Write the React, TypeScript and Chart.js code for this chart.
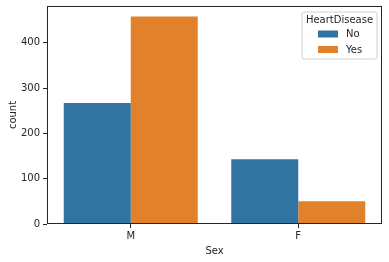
import React, { useEffect, useRef } from "react";
import { Chart, registerables } from "chart.js";

Chart.register(...registerables);

const categories = ["M", "F"];
const seriesNames = ["No", "Yes"];
const noValues = [267, 143];
const yesValues = [458, 50];
const yTicks = [0, 100, 200, 300, 400];
const colors = ["#3274a1", "#e1812c"];
const FONT = "'DejaVu Sans', sans-serif";

const framePlugin = {
  id: "frameLegend",
  afterDraw(chart: any) {
    const { ctx, chartArea } = chart;
    const { left, right, top, bottom } = chartArea;
    ctx.save();
    ctx.strokeStyle = "#262626";
    ctx.lineWidth = 1;
    const l = Math.round(left) + 0.5, t = Math.round(top) + 0.5;
    const r0 = Math.round(right) - 0.5, b = Math.round(bottom) - 0.5;
    ctx.strokeRect(l, t, r0 - l, b - t);
    // legend
    const bx = right - 80, by = top + 6, bw = 75, bh = 47;
    ctx.fillStyle = "rgba(255,255,255,0.8)";
    ctx.strokeStyle = "#d0d0d0";
    ctx.beginPath();
    const r = 2;
    ctx.moveTo(bx + r, by);
    ctx.lineTo(bx + bw - r, by);
    ctx.arcTo(bx + bw, by, bx + bw, by + r, r);
    ctx.lineTo(bx + bw, by + bh - r);
    ctx.arcTo(bx + bw, by + bh, bx + bw - r, by + bh, r);
    ctx.lineTo(bx + r, by + bh);
    ctx.arcTo(bx, by + bh, bx, by + bh - r, r);
    ctx.lineTo(bx, by + r);
    ctx.arcTo(bx, by, bx + r, by, r);
    ctx.closePath();
    ctx.fill();
    ctx.stroke();
    ctx.fillStyle = "#262626";
    ctx.font = `10px ${FONT}`;
    ctx.textAlign = "center";
    ctx.textBaseline = "middle";
    ctx.fillText("HeartDisease", bx + bw / 2, by + 8.5);
    ctx.textAlign = "left";
    seriesNames.forEach((name, i) => {
      const y = by + 22 + i * 15.5;
      ctx.fillStyle = colors[i];
      ctx.fillRect(bx + 16, y - 3.5, 20, 7);
      ctx.fillStyle = "#262626";
      ctx.fillText(name, bx + 44, y + 0.5);
    });
    ctx.restore();
  },
};

export default function App() {
  const ref = useRef<HTMLCanvasElement>(null);
  useEffect(() => {
    document.body.style.margin = "0";
    const chart = new Chart(ref.current!, {
      type: "bar",
      data: {
        labels: categories,
        datasets: [
          { label: seriesNames[0], data: noValues, backgroundColor: colors[0], categoryPercentage: 0.8, barPercentage: 1.0 },
          { label: seriesNames[1], data: yesValues, backgroundColor: colors[1], categoryPercentage: 0.8, barPercentage: 1.0 },
        ],
      },
      options: {
        animation: false,
        responsive: false,
        devicePixelRatio: 1,
        layout: { padding: { left: 0, right: 7, top: 6, bottom: 0 } },
        plugins: { legend: { display: false }, tooltip: { enabled: false } },
        scales: {
          x: {
            offset: true,
            grid: { offset: false, drawOnChartArea: false, drawTicks: true, tickLength: 4, color: "#262626" },
            border: { display: false },
            ticks: { color: "#262626", font: { family: FONT, size: 10 }, padding: 2 },
            title: { display: true, text: "Sex", color: "#262626", font: { family: FONT, size: 10 }, padding: { top: 2, bottom: 5 } },
            afterFit(scale: any) { scale.height = 38; scale.paddingLeft = 0; scale.paddingRight = 0; },
          },
          y: {
            min: 0,
            max: 481,
            afterBuildTicks(scale: any) { scale.ticks = yTicks.map((v) => ({ value: v })); },
            grid: { drawOnChartArea: false, drawTicks: true, tickLength: 4, color: "#262626" },
            border: { display: false },
            ticks: { color: "#262626", font: { family: FONT, size: 10 }, padding: 3 },
            title: { display: true, text: "count", color: "#262626", font: { family: FONT, size: 10 }, padding: { top: 7, bottom: 2 } },
            afterFit(scale: any) { scale.width = 47; scale.paddingTop = 0; scale.paddingBottom = 0; },
          },
        },
      },
      plugins: [framePlugin],
    });
    return () => chart.destroy();
  }, []);
  return (
    <div style={{ width: 389, height: 262, background: "#fff" }}>
      <canvas ref={ref} width={389} height={262} />
    </div>
  );
}
